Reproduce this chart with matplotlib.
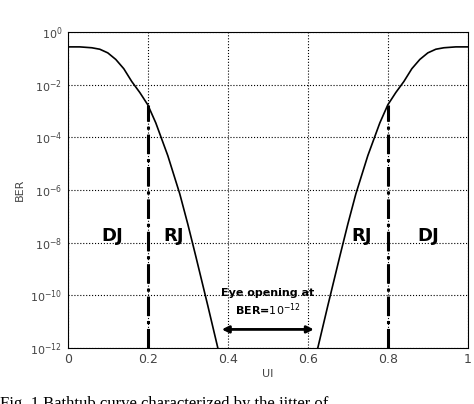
import numpy as np
import matplotlib
matplotlib.use("Agg")
import matplotlib.pyplot as plt

x_left = [0, 0.03, 0.06, 0.08, 0.10, 0.12, 0.14, 0.16, 0.18, 0.20, 0.22, 0.25, 0.28, 0.30, 0.32, 0.35, 0.375]
ber_left = [0.27, 0.27, 0.25, 0.22, 0.16, 0.09, 0.04, 0.013, 0.005, 0.0017, 3.5e-4, 2e-5, 7e-7, 5e-8, 3e-9, 4e-11, 1e-12]
x_right = [1 - v for v in x_left][::-1]
ber_right = ber_left[::-1]
yticks = [1e0, 1e-2, 1e-4, 1e-6, 1e-8, 1e-10, 1e-12]
ytick_labels = [r"$10^{0}$", r"$10^{-2}$", r"$10^{-4}$", r"$10^{-6}$", r"$10^{-8}$", r"$10^{-10}$", r"$10^{-12}$"]
xticks = [0, 0.2, 0.4, 0.6, 0.8, 1]
xtick_labels = ["0", "0.2", "0.4", "0.6", "0.8", "1"]

fig = plt.figure(figsize=(4.74, 4.04), dpi=100)
ax = fig.add_axes([0.143, 0.139, 0.844, 0.782])
ax.plot(x_left, ber_left, color="black", lw=1.2)
ax.plot(x_right, ber_right, color="black", lw=1.2)
ax.set_yscale("log")
ax.set_xlim(0, 1)
ax.set_ylim(1e-12, 1e0)
ax.set_yticks(yticks)
ax.set_yticklabels(ytick_labels, fontsize=8, color="#444444")
ax.minorticks_off()
ax.set_xticks(xticks)
ax.set_xticklabels(xtick_labels, fontsize=9, color="#444444")
ax.tick_params(length=0, pad=4)
ax.grid(True, color="black", linestyle=":", lw=0.8)
ax.set_xlabel("UI", fontsize=8, labelpad=2, color="#444444")
ax.set_ylabel("BER", fontsize=8, color="#444444")

ycut = np.interp(0.2, x_left, np.log10(ber_left))
ax.plot([0.2, 0.2], [1e-12, 10**ycut], color="black", lw=2.2, ls="-.")
ax.plot([0.8, 0.8], [1e-12, 10**ycut], color="black", lw=2.2, ls="-.")

ax.annotate("", xy=(0.378, 10**-11.3), xytext=(0.622, 10**-11.3),
            arrowprops=dict(arrowstyle="<|-|>", color="black", lw=2, mutation_scale=10))
ax.text(0.5, 10**-10.3, "Eye opening at\nBER=$10^{-12}$", ha="center", va="center", fontsize=8, fontweight="bold")
for xv, s in [(0.11, "DJ"), (0.265, "RJ"), (0.735, "RJ"), (0.9, "DJ")]:
    ax.text(xv, 10**-7.75, s, ha="center", va="center", fontsize=13, fontweight="bold")

fig.text(0.0, 0.0, "Fig. 1 Bathtub curve characterized by the jitter of", fontsize=12,
         family="Liberation Serif", va="center")
fig.savefig("out.png", dpi=100)
